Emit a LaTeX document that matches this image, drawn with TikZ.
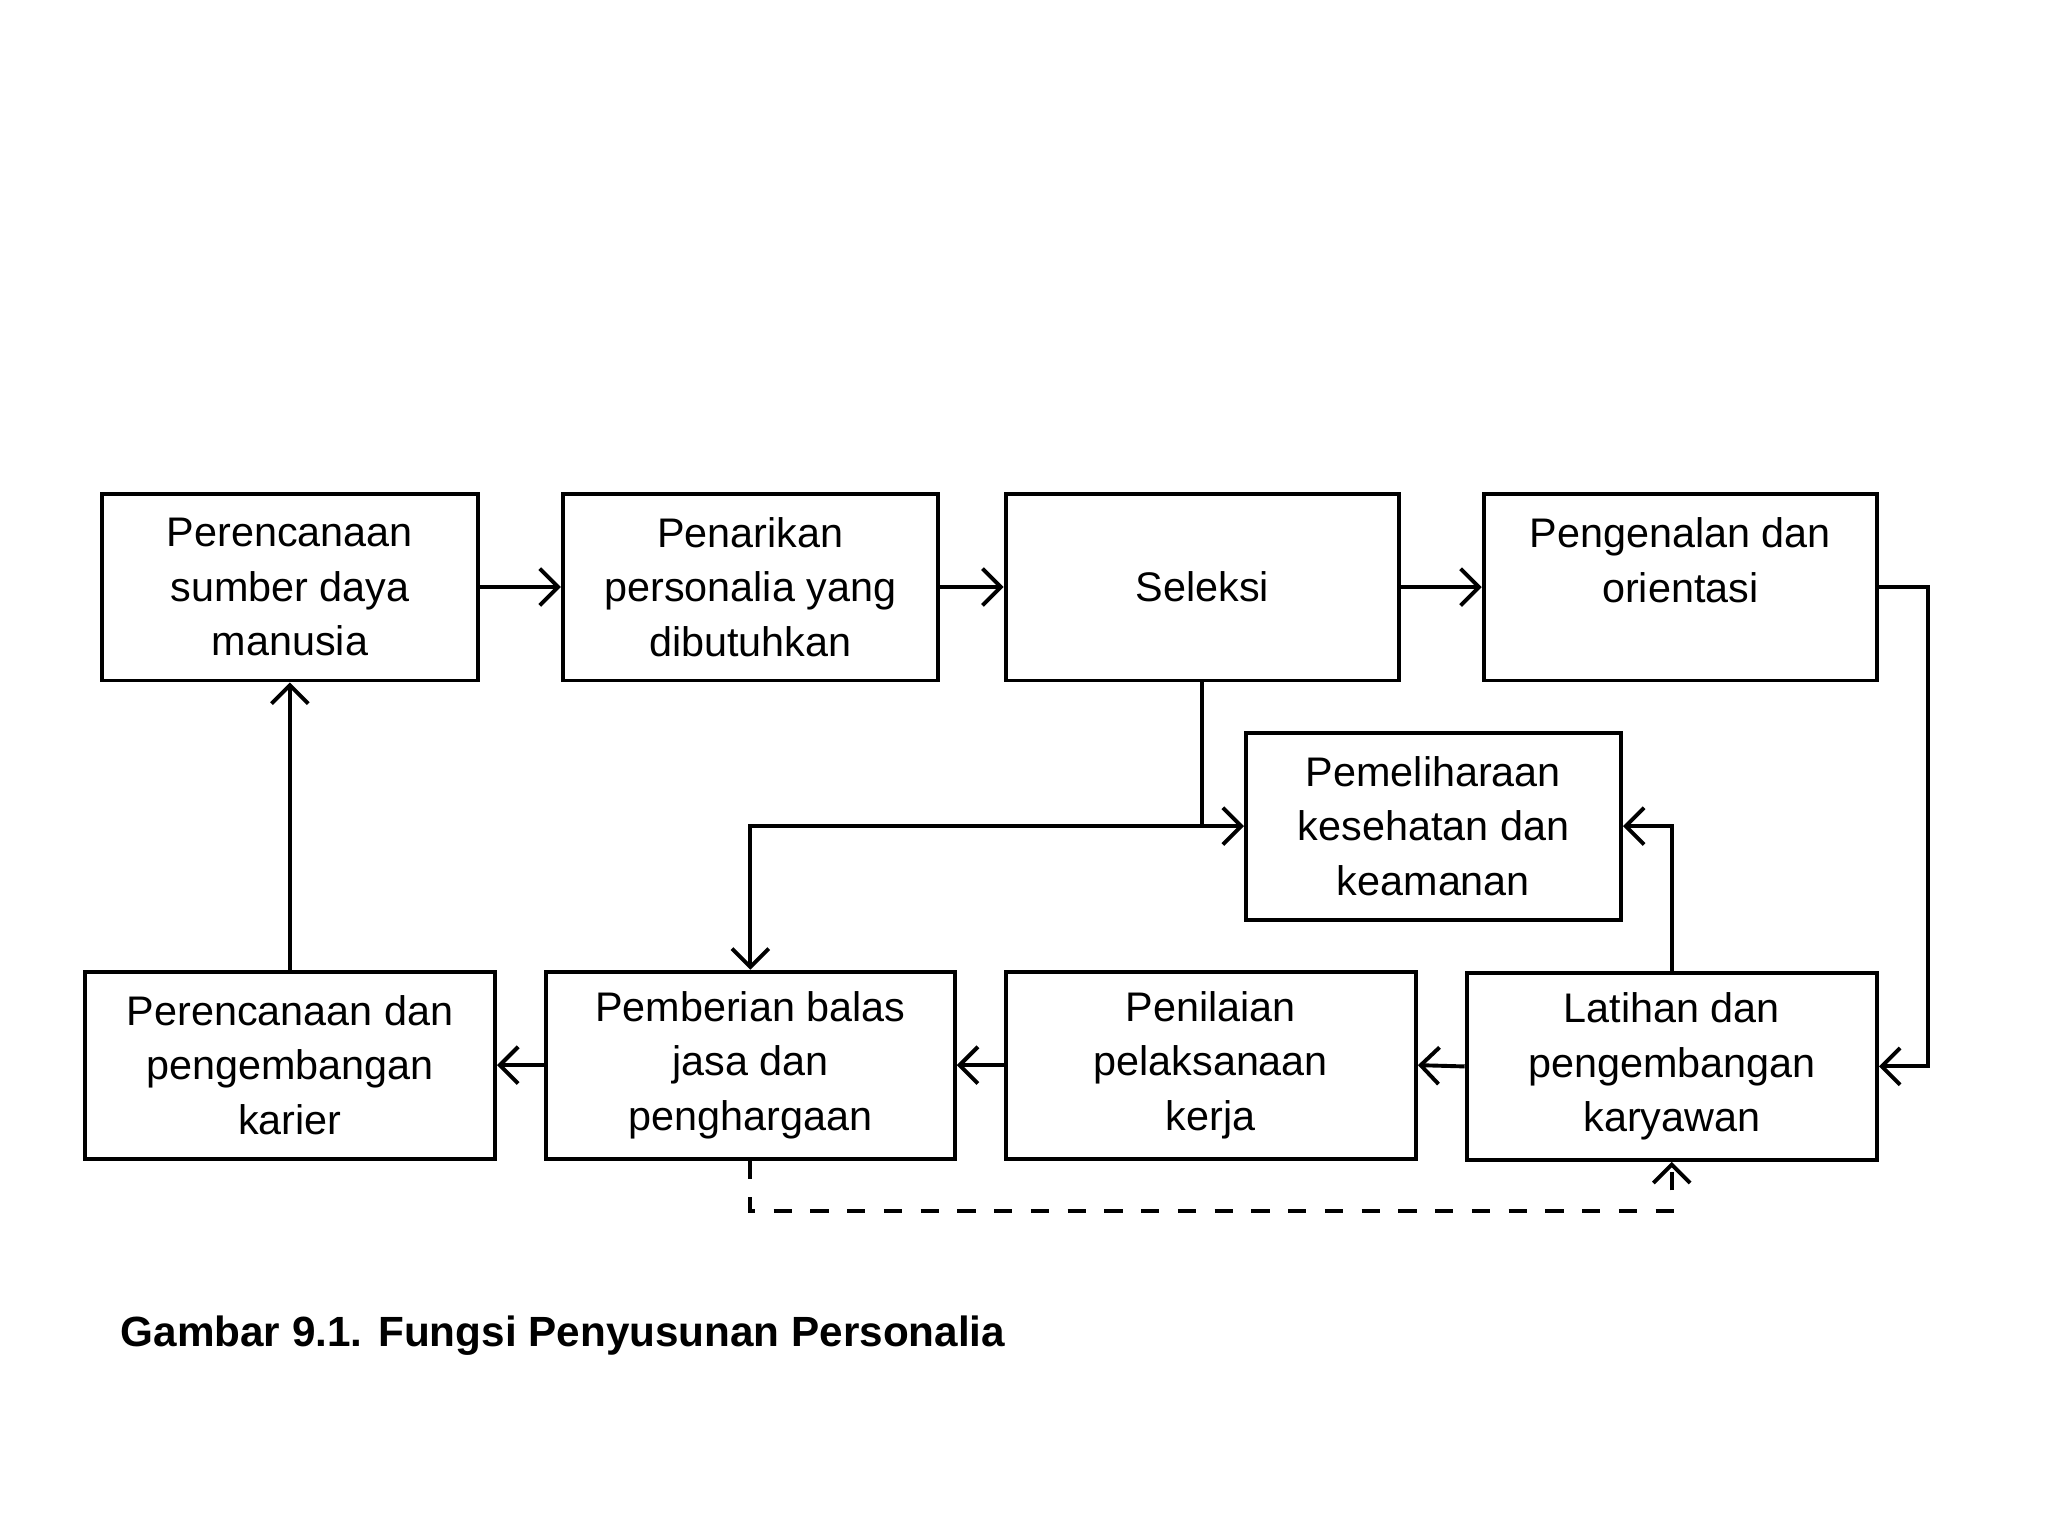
\documentclass[tikz,border=0pt]{standalone}
\usepackage{fontspec}
\setmainfont{Liberation Sans}
\usetikzlibrary{arrows.meta}
\begin{document}
\begin{tikzpicture}[x=0.01cm,y=-0.01cm,
  bx/.style={draw,line width=0.85pt,inner sep=0pt,align=center,minimum height=1.43cm,font=\fontsize{9}{11.9}\selectfont},
  ar/.style={line width=0.85pt,-{Straight Barb[length=4pt,width=8pt,line width=0.85pt]}}]
\useasboundingbox (0,0) rectangle (1568,1176);
\node[bx,minimum width=2.88cm] (A) at (222,449.5) {Perencanaan\\sumber daya\\manusia};
\node[bx,minimum width=2.87cm] (B) at (574.5,449.5) {Penarikan\\personalia yang\\dibutuhkan};
\node[bx,minimum width=3.01cm] (C) at (920.5,449.5) {Seleksi};
\node[bx,minimum width=3.01cm] (D) at (1286.5,449.5) {Pengenalan dan\\orientasi\\~};
\node[bx,minimum width=2.87cm] (E) at (1097.5,632.5) {Pemeliharaan\\kesehatan dan\\keamanan};
\node[bx,minimum width=3.14cm] (F) at (222,815.5) {Perencanaan dan\\pengembangan\\karier};
\node[bx,minimum width=3.13cm] (G) at (574.5,815.5) {Pemberian balas\\jasa dan\\penghargaan};
\node[bx,minimum width=3.14cm] (H) at (927,815.5) {Penilaian\\pelaksanaan\\kerja};
\node[bx,minimum width=3.14cm] (I) at (1280,816.5) {Latihan dan\\pengembangan\\karyawan};
\node[anchor=west,font=\fontsize{9.2}{11}\selectfont\bfseries] (cap) at (80,1023) {Gambar 9.1. Fungsi Penyusunan Personalia};
\draw[ar] (A.east) -- (B.west);
\draw[ar] (B.east) -- (C.west);
\draw[ar] (C.east) -- (D.west);
\draw[ar] (D.east) -- (1476,449.5) |- (I.east);
\coordinate (j) at (920.5,632.5);
\draw[ar] (C.south) -- (j) -- (E.west);
\draw[ar] (j) -| (G.north);
\draw[ar] (I.north) |- (E.east);
\draw[ar] (I.west) -- (H.east);
\draw[ar] (H.west) -- (G.east);
\draw[ar] (G.west) -- (F.east);
\draw[ar] (F.north) -- (A.south);
\draw[ar,dash pattern=on 4pt off 4pt] (G.south) -- (574.5,927) -| (I.south);
\end{tikzpicture}
\end{document}
